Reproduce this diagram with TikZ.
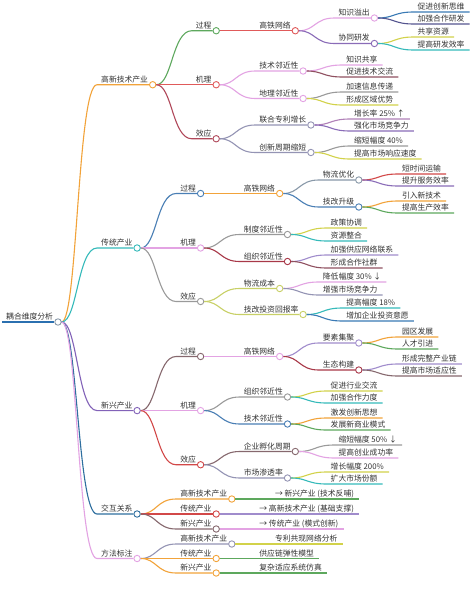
\documentclass[tikz,border=0pt]{standalone}
\usepackage{fontspec}
\setmainfont{Noto Sans CJK SC}
\usetikzlibrary{calc}
\definecolor{cOrange}{HTML}{F2A33A}
\definecolor{cGreen}{HTML}{5DA85D}
\definecolor{cRed}{HTML}{E05A5A}
\definecolor{cRedB}{HTML}{D24848}
\definecolor{cPink}{HTML}{E3A3E3}
\definecolor{cBlue}{HTML}{3A7AB5}
\definecolor{cBlueB}{HTML}{4A7FB5}
\definecolor{cNavy}{HTML}{55558F}
\definecolor{cPurple}{HTML}{8A6CB8}
\definecolor{cViolet}{HTML}{8262B8}
\definecolor{cLav}{HTML}{A08CCC}
\definecolor{cYellow}{HTML}{D2D24A}
\definecolor{cOlive}{HTML}{C8D066}
\definecolor{cTeal}{HTML}{35BABA}
\definecolor{cBrown}{HTML}{8F5060}
\definecolor{cBrownGray}{HTML}{86686E}
\definecolor{cGray}{HTML}{9A9A9A}
\definecolor{cSlate}{HTML}{8898A8}
\definecolor{cGrayPurple}{HTML}{9494B4}
\definecolor{cMauve}{HTML}{B080B8}
\definecolor{cDarkRed}{HTML}{A83848}
\definecolor{cEff}{HTML}{B0485A}
\definecolor{cIA}{HTML}{2F6F9F}
\definecolor{cRoot}{HTML}{2B70B0}
\definecolor{cText}{HTML}{333333}
\tikzset{
  txt/.style={inner sep=0pt, text=cText, font=\fontsize{7.8}{9}\selectfont},
  dot/.style={circle, fill=white, line width=0.9pt, minimum size=6.4pt, inner sep=0pt},
  link/.style={line width=1.1pt},
}
% #1 parent, #2 name, #3 y, #4 colour, #5 text
\newcommand\mmnode[5]{%
  \path (#1) ++(39,0) coordinate (#2-a);
  \path (0,#3) coordinate (#2-b);
  \coordinate (#2-s) at (#2-a |- #2-b);
  \node[txt, anchor=base west] (#2-t) at ([shift={(4,-2.5)}]#2-s) {#5};
  \path (#2-t.base east) ++(4.5,2.5) coordinate (#2-c);
  \node[dot, draw=#4] (#2) at (#2-c) {};
  \draw[link, draw=#4] (#1) .. controls +(19.5,0) and +(-19.5,0) .. (#2-s) -- (#2);
}
\newcommand\mmleaf[5]{%
  \path (#1) ++(39,0) coordinate (#2-a);
  \path (0,#3) coordinate (#2-b);
  \coordinate (#2-s) at (#2-a |- #2-b);
  \node[txt, anchor=base west] (#2-t) at ([shift={(4,-2.5)}]#2-s) {#5};
  \path (#2-t.base east) ++(5,2.5) coordinate (#2-e);
  \draw[link, draw=#4] (#1) .. controls +(19.5,0) and +(-19.5,0) .. (#2-s) -- (#2-e);
}
\begin{document}
\begin{tikzpicture}[x=1pt,y=-1pt]
\useasboundingbox (0,0) rectangle (474,594);
\fill[white] (0,0) rectangle (474,594);
% root
\node[txt, anchor=base west] (root-t) at (6,319.5) {耦合维度分析};
\coordinate (root-s) at (2,322);
\node[dot, draw=cSlate] (root) at (58,322) {};
\draw[line width=2pt, draw=cRoot] (root-s) -- (root);
% ---------- 高新技术产业
\mmnode{root}{ht}{84.75}{cOrange}{高新技术产业}
\mmnode{ht}{htp}{30.75}{cGreen}{过程}
\mmnode{htp}{htpn}{30.75}{cRed}{高铁网络}
\mmnode{htpn}{htpna}{18}{cPink}{知识溢出}
\mmleaf{htpna}{la1}{12}{cBlue}{促进创新思维}
\mmleaf{htpna}{la2}{24}{cNavy}{加强合作研发}
\mmnode{htpn}{htpnb}{43.5}{cPurple}{协同研发}
\mmleaf{htpnb}{la3}{37}{cYellow}{共享资源}
\mmleaf{htpnb}{la4}{50}{cTeal}{提高研发效率}
\mmnode{ht}{htm}{84.75}{cRed}{机理}
\mmnode{htm}{htma}{71}{cPink}{技术邻近性}
\mmleaf{htma}{la5}{65}{cPink}{知识共享}
\mmleaf{htma}{la6}{77}{cBrown}{促进技术交流}
\mmnode{htm}{htmb}{98.5}{cPink}{地理邻近性}
\mmleaf{htmb}{la7}{92}{cGray}{加速信息传递}
\mmleaf{htmb}{la8}{105}{cYellow}{形成区域优势}
\mmnode{ht}{hte}{138.75}{cEff}{效应}
\mmnode{hte}{htea}{125}{cGrayPurple}{联合专利增长}
\mmleaf{htea}{la9}{119}{cMauve}{增长率 25\% ↑}
\mmleaf{htea}{la10}{131}{cPurple}{强化市场竞争力}
\mmnode{hte}{hteb}{152.5}{cGrayPurple}{创新周期缩短}
\mmleaf{hteb}{la11}{146}{cGray}{缩短幅度 40\%}
\mmleaf{hteb}{la12}{159}{cYellow}{提高市场响应速度}
% ---------- 传统产业
\mmnode{root}{tr}{248}{cTeal}{传统产业}
\mmnode{tr}{trp}{193.5}{cBlueB}{过程}
\mmnode{trp}{trpn}{193.5}{cOrange}{高铁网络}
\mmnode{trpn}{trpna}{180}{cSlate}{物流优化}
\mmleaf{trpna}{lb1}{174}{cRedB}{短时间运输}
\mmleaf{trpna}{lb2}{186}{cPurple}{提升服务效率}
\mmnode{trpn}{trpnb}{207}{cBlueB}{技改升级}
\mmleaf{trpnb}{lb3}{201}{cOrange}{引入新技术}
\mmleaf{trpnb}{lb4}{213}{cGreen}{提高生产效率}
\mmnode{tr}{trm}{248}{cPink}{机理}
\mmnode{trm}{trma}{234.5}{cGray}{制度邻近性}
\mmleaf{trma}{lb5}{228}{cYellow}{政策协调}
\mmleaf{trma}{lb6}{241}{cTeal}{资源整合}
\mmnode{trm}{trmb}{261.5}{cDarkRed}{组织邻近性}
\mmleaf{trmb}{lb7}{255}{cLav}{加强供应网络联系}
\mmleaf{trmb}{lb8}{268}{cBrown}{形成合作社群}
\mmnode{tr}{tre}{301.5}{cGray}{效应}
\mmnode{tre}{trea}{288.5}{cOlive}{物流成本}
\mmleaf{trea}{lb9}{282}{cPink}{降低幅度 30\% ↓}
\mmleaf{trea}{lb10}{295}{cGrayPurple}{增强市场竞争力}
\mmnode{tre}{treb}{314.5}{cOlive}{技改投资回报率}
\mmleaf{treb}{lb11}{308}{cTeal}{提高幅度 18\%}
\mmleaf{treb}{lb12}{321}{cBlue}{增加企业投资意愿}
% ---------- 新兴产业
\mmnode{root}{em}{410.6}{cViolet}{新兴产业}
\mmnode{em}{emp}{356.5}{cBrownGray}{过程}
\mmnode{emp}{empn}{356.5}{cPink}{高铁网络}
\mmnode{empn}{empna}{343}{cLav}{要素集聚}
\mmleaf{empna}{lc1}{337}{cOrange}{园区发展}
\mmleaf{empna}{lc2}{349}{cGreen}{人才引进}
\mmnode{empn}{empnb}{370}{cDarkRed}{生态构建}
\mmleaf{empnb}{lc3}{364}{cLav}{形成完整产业链}
\mmleaf{empnb}{lc4}{376}{cBrownGray}{提高市场适应性}
\mmnode{em}{emm}{410.6}{cPink}{机理}
\mmnode{emm}{emma}{397}{cGray}{组织邻近性}
\mmleaf{emma}{lc5}{391}{cYellow}{促进行业交流}
\mmleaf{emma}{lc6}{403}{cTeal}{加强合作力度}
\mmnode{emm}{emmb}{424}{cBlueB}{技术邻近性}
\mmleaf{emmb}{lc7}{418}{cOrange}{激发创新思想}
\mmleaf{emmb}{lc8}{430}{cGreen}{发展新商业模式}
\mmnode{em}{eme}{464.75}{cRedB}{效应}
\mmnode{eme}{emea}{451.5}{cBrownGray}{企业孵化周期}
\mmleaf{emea}{lc9}{445}{cGray}{缩短幅度 50\% ↓}
\mmleaf{emea}{lc10}{458}{cPink}{提高创业成功率}
\mmnode{eme}{emeb}{478}{cGrayPurple}{市场渗透率}
\mmleaf{emeb}{lc11}{472}{cYellow}{增长幅度 200\%}
\mmleaf{emeb}{lc12}{484}{cTeal}{扩大市场份额}
% ---------- 交互关系
\mmnode{root}{ia}{514}{cIA}{交互关系}
\mmnode{ia}{iaa}{499}{cOrange}{高新技术产业}
\mmleaf{iaa}{ld1}{499}{cGreen}{→ 新兴产业 (技术反哺)}
\mmnode{ia}{iab}{514}{cRedB}{传统产业}
\mmleaf{iab}{ld2}{514}{cLav}{→ 高新技术产业 (基础支撑)}
\mmnode{ia}{iac}{529}{cBrownGray}{新兴产业}
\mmleaf{iac}{ld3}{529}{cPink}{→ 传统产业 (模式创新)}
% ---------- 方法标注
\mmnode{root}{me}{558.5}{cPink}{方法标注}
\mmnode{me}{mea}{544}{cGrayPurple}{高新技术产业}
\mmleaf{mea}{le1}{544}{cYellow}{专利共现网络分析}
\mmnode{me}{meb}{558.5}{cOrange}{传统产业}
\mmleaf{meb}{le2}{558.5}{cGreen}{供应链弹性模型}
\mmnode{me}{mec}{573}{cOrange}{新兴产业}
\mmleaf{mec}{le3}{573}{cGreen}{复杂适应系统仿真}
\end{tikzpicture}
\end{document}
